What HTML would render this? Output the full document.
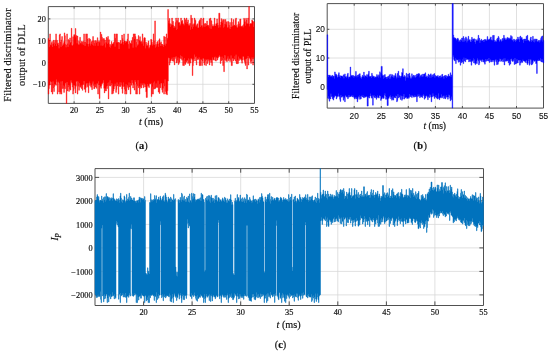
<!DOCTYPE html>
<html><head><meta charset="utf-8"><title>Figure</title>
<style>
html,body{margin:0;padding:0;background:#fff}
svg{display:block}
.s{font-family:"Liberation Serif","DejaVu Serif",serif;fill:#111;stroke:#111;stroke-width:.18}
.n{font-family:"Liberation Sans","DejaVu Sans",sans-serif;fill:#111;stroke:#111;stroke-width:.1}
</style></head><body>
<svg width="550" height="353" viewBox="0 0 550 353">
<rect width="550" height="353" fill="#fff"/>
<path d="M74.1 6.6V103.4M99.8 6.6V103.4M125.6 6.6V103.4M151.4 6.6V103.4M177.2 6.6V103.4M202.9 6.6V103.4M228.7 6.6V103.4M48.3 84.3H254.5M48.3 62.5H254.5M48.3 40.7H254.5M48.3 18.9H254.5" stroke="#d6d6d6" stroke-width="0.75" fill="none"/>
<path d="M48.3 6.6H254.5V103.4H48.3ZM74.1 103.4v-2.1M74.1 6.6v2.1M99.8 103.4v-2.1M99.8 6.6v2.1M125.6 103.4v-2.1M125.6 6.6v2.1M151.4 103.4v-2.1M151.4 6.6v2.1M177.2 103.4v-2.1M177.2 6.6v2.1M202.9 103.4v-2.1M202.9 6.6v2.1M228.7 103.4v-2.1M228.7 6.6v2.1M48.3 84.3h2.1M254.5 84.3h-2.1M48.3 62.5h2.1M254.5 62.5h-2.1M48.3 40.7h2.1M254.5 40.7h-2.1M48.3 18.9h2.1M254.5 18.9h-2.1" stroke="#484848" stroke-width="0.95" fill="none"/>
<path d="M48.3 38.4h.5V47h.5V40.2h.5V33.9h.5V44.7h.5V45.2h.5V42.7h.5V41.6h.5V46.9h.5V43.7h.5V40.2h.5V42.7h.5V45.4h.5V40.3h.5V43.9h.5V33.9h.5V45.9h.5V40.3h.5V44.1h.5V42.9h.5V44.7h.5V48.3h.5V35h.5V33.9h.5V42.1h.5V46.7h.5V39.9h.5V36.5h.5V45.9h.5V44.8h.5V43.4h.5V41.6h.5V32.9h.5V35.7h.5V44.2h.5V47.3h.5V44.9h.5V33.9h.5V43.8h.5V47.1h.5V39.6h.5V44.5h.5V40.4h.5V37.9h.5V42.8h.5V42h.5V28.3h.5V45.3h.5V45.8h.5V36.7h.5V44.2h.5V34.7h.5V34.7h.5V35.7h.5V28.5h.5V37.2h.5V35.6h.5V43.2h.5V36h.5V40.8h.5V44.5h.5V44.5h.5V41.4h.5V37.3h.5V43.2h.5V43.1h.5V41.4h.5V44.3h.5V42.2h.5V41.4h.5V45h.5V33.9h.5V45.5h.5V42h.5V45.7h.5V33.9h.5V43.3h.5V33.9h.5V39.1h.5V44.1h.5V46.2h.5V38.2h.5V43.5h.5V39.1h.5V45.6h.5V43.7h.5V42h.5V40.9h.5V44.4h.5V36.5h.5V45.6h.5V40.7h.5V43.3h.5V45.7h.5V40.6h.5V40.7h.5V43.1h.5V41.7h.5V37.7h.5V45.8h.5V42.1h.5V40.7h.5V42.3h.5V42.2h.5V32h.5V45.6h.5V34.4h.5V37.1h.5V45.8h.5V38.6h.5V45.3h.5V38.6h.5V43.6h.5V40.1h.5V47.2h.5V42.6h.5V37.3h.5V38.3h.5V43.7h.5V36.4h.5V42.4h.5V39.7h.5V47.1h.5V44.3h.5V47.5h.5V45.6h.5V41.6h.5V44.3h.5V44h.5V43.8h.5V42.8h.5V42h.5V33.9h.5V46.4h.5V38.2h.5V33.9h.5V42.2h.5V33.9h.5V42.6h.5V42.1h.5V42.6h.5V48.9h.5V42.7h.5V43.9h.5V40.5h.5V43.4h.5V43.4h.5V35h.5V38.6h.5V42.1h.5V44.2h.5V33.9h.5V41h.5V41h.5V42.7h.5V41.7h.5V41.5h.5V41.6h.5V38.9h.5V33.9h.5V44.3h.5V48.5h.5V41.3h.5V43.2h.5V43.3h.5V43.2h.5V40.7h.5V44.1h.5V37.4h.5V47.4h.5V33.9h.5V39h.5V33.9h.5V33.9h.5V36.5h.5V47.3h.5V42.3h.5V39.1h.5V45.5h.5V44.5h.5V35.6h.5V40h.5V40.9h.5V36.7h.5V41.8h.5V41.2h.5V42h.5V43.5h.5V33.9h.5V41.7h.5V45.7h.5V38.3h.5V37.6h.5V37.9h.5V48.3h.5V42.2h.5V44.5h.5V45.9h.5V45.3h.5V42.8h.5V40.9h.5V48.2h.5V47.5h.5V45.4h.5V44.9h.5V39.3h.5V39.7h.5V42.2h.5V45.6h.5V44.4h.5V33.9h.5V40.9h.5V44.9h.5V20.9h.5V47.5h.5V44.5h.5V46.6h.5V42.3h.5V41.5h.5V43.9h.5V46.7h.5V40.3h.5V38.8h.5V42.9h.5V46.1h.5V41.8h.5V44h.5V46.1h.5V44.3h.5V44.9h.5V46.7h.5V36.3h.5V44.4h.5V37h.5V45.6h.5V43.8h.5V33.9h.5V39.2h.5V38h.5V9.5h.5V20.8h.5V23.3h.5V18.5h.5V23.5h.5V27h.5V24.3h.5V25.3h.5V18h.5V24.9h.5V21.3h.5V25.3h.5V27.9h.5V26.5h.5V27.6h.5V22.4h.5V18h.5V30h.5V20.6h.5V28.9h.5V18h.5V22.6h.5V22.4h.5V22.7h.5V25.6h.5V24.5h.5V18h.5V21h.5V21.8h.5V20.4h.5V23.7h.5V24.2h.5V25.2h.5V18h.5V22.3h.5V19.7h.5V22.7h.5V18h.5V23.7h.5V22.1h.5V19.9h.5V24.4h.5V25.7h.5V25.2h.5V23.4h.5V29.4h.5V15.2h.5V27h.5V18.2h.5V28.7h.5V24.6h.5V26.7h.5V23.6h.5V18h.5V19.7h.5V20.4h.5V26.5h.5V25.6h.5V24.5h.5V23.8h.5V27.7h.5V28h.5V21.5h.5V20.4h.5V19.7h.5V27h.5V18h.5V25.6h.5V25.6h.5V27.2h.5V19h.5V18h.5V26.4h.5V23.7h.5V26.4h.5V23.4h.5V25.9h.5V24.2h.5V20.9h.5V25.2h.5V25h.5V26.2h.5V25.7h.5V18.8h.5V28.3h.5V18h.5V29.1h.5V20.7h.5V24.4h.5V25.9h.5V26.5h.5V25.9h.5V24.5h.5V18h.5V25.9h.5V26h.5V23.8h.5V23.6h.5V18.9h.5V22.9h.5V25.2h.5V27.4h.5V13.2h.5V13.2h.5V27.2h.5V25.1h.5V22.1h.5V18.7h.5V20.8h.5V22.4h.5V19.5h.5V27.5h.5V19.6h.5V26.4h.5V24h.5V19.5h.5V24.5h.5V22.3h.5V21.6h.5V27.8h.5V27.2h.5V21.6h.5V25.3h.5V28.5h.5V22.4h.5V28.9h.5V27h.5V18.6h.5V22.3h.5V26.2h.5V25.8h.5V19.6h.5V25.1h.5V25.1h.5V25.9h.5V19.5h.5V18h.5V25.6h.5V27.3h.5V28h.5V24.6h.5V21.7h.5V26.2h.5V23.8h.5V19.2h.5V19h.5V26.2h.5V26.5h.5V26.4h.5V25.8h.5V27.3h.5V24.4h.5V18.2h.5V19.4h.5V21.7h.5V25.5h.5V18.2h.5V19.9h.5V23.5h.5V23.8h.5V18h.5V23.5h.5V6.6h.5V26.3h.5V24h.5V23.6h.5V23.5h.5V23.5h.5V19.9h.5V21.1h.5V21.1h.5V27.1h.5V22h.5V57.6h-.5V59.1h-.5V65.1h-.5V59.1h-.5V57.4h-.5V61h-.5V63.4h-.5V61.4h-.5V59.2h-.5V57.8h-.5V57.9h-.5V65.1h-.5V56h-.5V58.1h-.5V69h-.5V58.5h-.5V59h-.5V65.4h-.5V63.4h-.5V61.4h-.5V59.7h-.5V56.5h-.5V56.4h-.5V59.9h-.5V63.2h-.5V60.6h-.5V59.6h-.5V58.5h-.5V59.2h-.5V58.2h-.5V60.5h-.5V56.8h-.5V63.6h-.5V59.9h-.5V63.9h-.5V63.5h-.5V54.8h-.5V61.1h-.5V56.3h-.5V58.9h-.5V59.4h-.5V60.9h-.5V58.6h-.5V58h-.5V65.6h-.5V65.6h-.5V55.5h-.5V59.5h-.5V61.5h-.5V59h-.5V58.3h-.5V60.6h-.5V56.6h-.5V58.4h-.5V61.6h-.5V59.7h-.5V61.2h-.5V55.4h-.5V59.8h-.5V55.3h-.5V71.7h-.5V57.9h-.5V65.6h-.5V59.9h-.5V56.8h-.5V60.7h-.5V59h-.5V63.5h-.5V56.8h-.5V54.9h-.5V56.3h-.5V56.9h-.5V58.1h-.5V60.1h-.5V58.1h-.5V57.2h-.5V61.1h-.5V60.7h-.5V56.7h-.5V57.3h-.5V60.2h-.5V59.5h-.5V59.8h-.5V57.4h-.5V65.6h-.5V60.1h-.5V62.4h-.5V60.1h-.5V59.7h-.5V65h-.5V61.6h-.5V60.3h-.5V59h-.5V63.6h-.5V59h-.5V60.1h-.5V65.6h-.5V61.3h-.5V59.5h-.5V65.1h-.5V63h-.5V58.2h-.5V58.5h-.5V61.1h-.5V65.6h-.5V60h-.5V59.1h-.5V65.6h-.5V59.7h-.5V65.6h-.5V57.5h-.5V59h-.5V59.6h-.5V59.4h-.5V57.9h-.5V65h-.5V56.4h-.5V57h-.5V60.9h-.5V54.8h-.5V58.8h-.5V61.4h-.5V65.6h-.5V75.6h-.5V59.4h-.5V58.5h-.5V58.2h-.5V63.1h-.5V59.6h-.5V65.6h-.5V62.5h-.5V58.5h-.5V63.5h-.5V60.5h-.5V60.3h-.5V62.2h-.5V61.1h-.5V64.4h-.5V63.4h-.5V57.9h-.5V65.6h-.5V59.7h-.5V65.5h-.5V56.7h-.5V60.2h-.5V56h-.5V58.8h-.5V55.5h-.5V58.2h-.5V61.9h-.5V63.3h-.5V64.6h-.5V57.4h-.5V60.3h-.5V62.5h-.5V63h-.5V56.2h-.5V57.3h-.5V58.8h-.5V64.9h-.5V56.9h-.5V61.3h-.5V58.7h-.5V61h-.5V57.8h-.5V59h-.5V60.4h-.5V61.1h-.5V62.7h-.5V65.1h-.5V58.1h-.5V57.7h-.5V81h-.5V90.7h-.5V94.8h-.5V93.2h-.5V94.1h-.5V91.4h-.5V79.2h-.5V86.1h-.5V94.1h-.5V83.2h-.5V88.2h-.5V92.3h-.5V89.7h-.5V83h-.5V83.2h-.5V87.8h-.5V84.6h-.5V93.5h-.5V84.2h-.5V92.1h-.5V80.8h-.5V87.4h-.5V86.8h-.5V87.3h-.5V83.4h-.5V88.1h-.5V88.8h-.5V81.4h-.5V89.1h-.5V82.7h-.5V94.1h-.5V86.7h-.5V94h-.5V96.5h-.5V82.9h-.5V84h-.5V83.2h-.5V84h-.5V87.6h-.5V85.8h-.5V86.2h-.5V84.1h-.5V97.4h-.5V97.4h-.5V91.8h-.5V84.4h-.5V87h-.5V84.2h-.5V83.2h-.5V87.8h-.5V83.2h-.5V84.4h-.5V85.2h-.5V88h-.5V83.5h-.5V86.8h-.5V88.4h-.5V94.1h-.5V86.6h-.5V87.7h-.5V80.3h-.5V85.8h-.5V94.1h-.5V84h-.5V94.1h-.5V81.7h-.5V80.3h-.5V90.1h-.5V83.7h-.5V84.8h-.5V88h-.5V82.7h-.5V80.3h-.5V85.2h-.5V83.8h-.5V94.1h-.5V82.9h-.5V87.1h-.5V82.5h-.5V89.7h-.5V87.8h-.5V84.9h-.5V86.4h-.5V94.1h-.5V84.2h-.5V90.9h-.5V94.1h-.5V89.2h-.5V86.4h-.5V82.5h-.5V86.6h-.5V93.3h-.5V88.9h-.5V82.8h-.5V85.2h-.5V86.6h-.5V82.2h-.5V86.4h-.5V84.2h-.5V94.1h-.5V85.4h-.5V86h-.5V82.4h-.5V89.5h-.5V92.4h-.5V85.8h-.5V83.7h-.5V86.3h-.5V88.9h-.5V90.9h-.5V93.4h-.5V83.7h-.5V94.1h-.5V84.7h-.5V82.9h-.5V86.1h-.5V80.6h-.5V85.8h-.5V82.3h-.5V98.9h-.5V83.1h-.5V85.7h-.5V88.6h-.5V86.5h-.5V91h-.5V88.8h-.5V90.9h-.5V92.9h-.5V88.3h-.5V80.6h-.5V82.6h-.5V83.3h-.5V83.7h-.5V85.7h-.5V88.3h-.5V86.1h-.5V87h-.5V98.5h-.5V84.9h-.5V81.6h-.5V94.1h-.5V83.4h-.5V83.4h-.5V88.3h-.5V84.7h-.5V87h-.5V84.2h-.5V88.5h-.5V88.7h-.5V85.5h-.5V81.4h-.5V83.6h-.5V89.7h-.5V84.9h-.5V87.2h-.5V83.5h-.5V85.6h-.5V81.8h-.5V83.2h-.5V92.8h-.5V87.3h-.5V86.4h-.5V83.1h-.5V83.5h-.5V87.4h-.5V92.2h-.5V88.9h-.5V89.2h-.5V80.9h-.5V84.2h-.5V84.7h-.5V90.3h-.5V85.5h-.5V88.5h-.5V85.5h-.5V87.2h-.5V86.5h-.5V83.3h-.5V90.3h-.5V86.2h-.5V81.8h-.5V94.1h-.5V81.3h-.5V81.4h-.5V86.2h-.5V93h-.5V88.6h-.5V85.4h-.5V84.9h-.5V90.4h-.5V94.1h-.5V87.1h-.5V83.3h-.5V82.2h-.5V80.5h-.5V90.1h-.5V89.2h-.5V85.8h-.5V91.4h-.5V85.3h-.5V87h-.5V90.9h-.5V81.9h-.5V103.4h-.5V82.7h-.5V83.3h-.5V88.8h-.5V86.4h-.5V92.4h-.5V85.4h-.5V88.4h-.5V81h-.5V88.7h-.5V94.1h-.5V81.5h-.5V92.3h-.5V94.1h-.5V83.5h-.5V92h-.5V81.7h-.5V82.4h-.5V94.1h-.5V81.8h-.5V79.4h-.5V85.3h-.5V84.4h-.5V83.9h-.5V86.5h-.5V91.6h-.5V87.9h-.5V81.5h-.5V94.1h-.5V84.9h-.5V92h-.5V82.1h-.5V81h-.5V84.8h-.5V85.2h-.5V88.5h-.5V94.1h-.5Z" fill="#ff0000" stroke="#ff0000" stroke-width="0.5"/>
<path d="M354.2 3.6V108.1M381.3 3.6V108.1M408.3 3.6V108.1M435.4 3.6V108.1M462.4 3.6V108.1M489.4 3.6V108.1M516.5 3.6V108.1M327.2 86.8H543.5M327.2 58.0H543.5M327.2 29.3H543.5" stroke="#d6d6d6" stroke-width="0.75" fill="none"/>
<path d="M327.2 3.6H543.5V108.1H327.2ZM354.2 108.1v-2.1M354.2 3.6v2.1M381.3 108.1v-2.1M381.3 3.6v2.1M408.3 108.1v-2.1M408.3 3.6v2.1M435.4 108.1v-2.1M435.4 3.6v2.1M462.4 108.1v-2.1M462.4 3.6v2.1M489.4 108.1v-2.1M489.4 3.6v2.1M516.5 108.1v-2.1M516.5 3.6v2.1M327.2 86.8h2.1M543.5 86.8h-2.1M327.2 58.0h2.1M543.5 58.0h-2.1M327.2 29.3h2.1M543.5 29.3h-2.1" stroke="#484848" stroke-width="0.95" fill="none"/>
<path d="M327.2 34.8h.5V75h.5V76.9h.5V75.2h.5V75.8h.5V75h.5V76.3h.5V76.8h.5V76.2h.5V75.8h.5V75.3h.5V77.3h.5V76.1h.5V76.2h.5V78.5h.5V71.9h.5V75.2h.5V73.9h.5V74.7h.5V75.4h.5V77.4h.5V77.1h.5V74.6h.5V72.7h.5V76.9h.5V75.6h.5V77.8h.5V75.9h.5V76.1h.5V76h.5V76.5h.5V76.4h.5V74.8h.5V78.3h.5V75.4h.5V73.9h.5V77h.5V76.6h.5V77.7h.5V76.7h.5V74.4h.5V73.3h.5V78.2h.5V76.9h.5V76.9h.5V77.3h.5V67h.5V75.9h.5V75.9h.5V75.1h.5V75.7h.5V76.5h.5V75.6h.5V77.4h.5V76.3h.5V76.9h.5V75.8h.5V71.4h.5V76.1h.5V77.3h.5V75.3h.5V76.7h.5V74.8h.5V75.4h.5V73.9h.5V73.7h.5V76.6h.5V77.9h.5V79h.5V76.9h.5V75.3h.5V76.7h.5V76.3h.5V72.1h.5V77.3h.5V75.6h.5V76.1h.5V76.2h.5V76.9h.5V74.6h.5V77.3h.5V75.3h.5V73.8h.5V71.2h.5V76.6h.5V76.4h.5V77h.5V76.2h.5V77.9h.5V73.3h.5V75.4h.5V77.1h.5V76.2h.5V76.4h.5V78.1h.5V76.8h.5V77h.5V77.6h.5V76.8h.5V74.6h.5V77.1h.5V75.8h.5V77.6h.5V74.8h.5V76.3h.5V71.8h.5V77.6h.5V73.2h.5V66.4h.5V66.4h.5V74.8h.5V76h.5V78.4h.5V75.2h.5V78h.5V74.5h.5V77.1h.5V77.6h.5V77.3h.5V78.9h.5V76.8h.5V77.9h.5V76.3h.5V77.2h.5V74.7h.5V78.9h.5V77.5h.5V74.2h.5V75.8h.5V76.4h.5V74.7h.5V76.9h.5V77.7h.5V75.6h.5V77.2h.5V75.8h.5V73.6h.5V75.7h.5V78.2h.5V77.5h.5V73.4h.5V77.3h.5V71.2h.5V77.4h.5V75.7h.5V76.2h.5V77.4h.5V76.6h.5V75.9h.5V72.6h.5V72.9h.5V68.7h.5V76.7h.5V76.7h.5V75.5h.5V76.7h.5V80.5h.5V76.6h.5V73.3h.5V77.7h.5V77.3h.5V74.2h.5V77.7h.5V74h.5V73.2h.5V75.8h.5V77.8h.5V79h.5V77.7h.5V73.8h.5V76.2h.5V77.2h.5V75.3h.5V75.5h.5V75.7h.5V77.2h.5V77.6h.5V75.2h.5V76.4h.5V74h.5V75.4h.5V74.1h.5V73.6h.5V74.5h.5V73.8h.5V77.3h.5V75.7h.5V75.8h.5V74.8h.5V76.6h.5V76.4h.5V74h.5V76.3h.5V74.3h.5V73.9h.5V73.9h.5V72.8h.5V77.1h.5V77.1h.5V75.8h.5V77.7h.5V76.7h.5V74h.5V76.9h.5V75.2h.5V77.7h.5V74.6h.5V73.8h.5V77.2h.5V75.5h.5V76.9h.5V74.7h.5V76.2h.5V74h.5V73.6h.5V77.5h.5V75.5h.5V77h.5V76.1h.5V76.4h.5V76.6h.5V75.4h.5V77.1h.5V77.8h.5V76.1h.5V76.6h.5V75.8h.5V77.7h.5V77.1h.5V74.7h.5V74.3h.5V76.9h.5V76.5h.5V78.5h.5V76h.5V75.5h.5V77h.5V75.3h.5V77.7h.5V76.3h.5V76.9h.5V76.1h.5V74.3h.5V76.6h.5V76h.5V76.3h.5V72.8h.5V76.8h.5V74.9h.5V76.5h.5V3.6h.5V3.6h.5V35.1h.5V37.5h.5V37.8h.5V38.6h.5V38h.5V38.9h.5V40.2h.5V39.4h.5V38.4h.5V38.3h.5V39.6h.5V41.4h.5V40.7h.5V42.1h.5V39.7h.5V40.6h.5V40.2h.5V38.1h.5V41.4h.5V37.9h.5V36.5h.5V41.7h.5V40.5h.5V38.5h.5V40.4h.5V36.9h.5V38.6h.5V42.2h.5V40.7h.5V38.8h.5V36.3h.5V40.5h.5V40h.5V39.6h.5V41.7h.5V41.9h.5V40h.5V37.3h.5V40.5h.5V39.1h.5V38.9h.5V39.8h.5V38.8h.5V41.9h.5V43.4h.5V39.4h.5V40.5h.5V40.9h.5V40.6h.5V38.7h.5V35.3h.5V40.3h.5V38.2h.5V42.7h.5V40.5h.5V41h.5V39.2h.5V41.1h.5V40.8h.5V40.6h.5V40h.5V42.1h.5V39.5h.5V40.4h.5V39.7h.5V39.4h.5V40.9h.5V40.2h.5V36.6h.5V39h.5V40h.5V40h.5V39h.5V39.8h.5V37.8h.5V36.9h.5V39.8h.5V40.3h.5V40.2h.5V35.5h.5V39.5h.5V35.3h.5V41.9h.5V40.3h.5V42.1h.5V41.3h.5V42h.5V39.3h.5V38.2h.5V39.9h.5V36.4h.5V37.8h.5V41.7h.5V40.8h.5V39.8h.5V39.6h.5V41.8h.5V40.9h.5V38.5h.5V40.2h.5V38.5h.5V35.3h.5V39h.5V37.9h.5V39.8h.5V39.5h.5V39.6h.5V38.2h.5V37.4h.5V38.6h.5V37.9h.5V39.2h.5V39h.5V37.9h.5V38.7h.5V35.6h.5V39.5h.5V36.6h.5V39.9h.5V40.4h.5V41.5h.5V39.1h.5V40.9h.5V39.7h.5V42h.5V40.5h.5V40.6h.5V39h.5V40h.5V37h.5V38.8h.5V39.5h.5V41.9h.5V37h.5V36h.5V38.7h.5V37.7h.5V37.6h.5V39.9h.5V39.6h.5V42.7h.5V39.1h.5V39h.5V40.5h.5V39.1h.5V41.1h.5V36.3h.5V38.4h.5V35.3h.5V40.3h.5V40.2h.5V40.8h.5V42.1h.5V41.3h.5V38.4h.5V37h.5V42h.5V40.3h.5V40.9h.5V36.3h.5V41.7h.5V39.6h.5V42.3h.5V38.9h.5V39.2h.5V41.2h.5V39.1h.5V39.2h.5V41.5h.5V41.7h.5V40.4h.5V41.2h.5V42.2h.5V40.1h.5V41.3h.5V38.4h.5V36.7h.5V40.3h.5V35.9h.5V41.4h.5V40.4h.5V62.9h-.5V59.5h-.5V62.1h-.5V59.3h-.5V61.9h-.5V61.2h-.5V58.3h-.5V60.4h-.5V60h-.5V60.7h-.5V59.8h-.5V60.7h-.5V60.4h-.5V73.5h-.5V63.4h-.5V63.5h-.5V60.6h-.5V60.9h-.5V61.3h-.5V60.8h-.5V60.1h-.5V62.8h-.5V64.2h-.5V61.8h-.5V64.9h-.5V59.8h-.5V59.2h-.5V63.7h-.5V65.2h-.5V59h-.5V60.7h-.5V63.2h-.5V64.5h-.5V63h-.5V60.1h-.5V61h-.5V62.4h-.5V61.6h-.5V61h-.5V60.9h-.5V60.7h-.5V59.7h-.5V62.4h-.5V61.9h-.5V61.2h-.5V63.1h-.5V60.1h-.5V65.2h-.5V60.1h-.5V60.2h-.5V59.9h-.5V62.9h-.5V62.8h-.5V59.3h-.5V63.4h-.5V61.7h-.5V64h-.5V58.1h-.5V64.5h-.5V59h-.5V60.5h-.5V61.4h-.5V61.3h-.5V60.5h-.5V58.7h-.5V59h-.5V64.1h-.5V61.2h-.5V65.2h-.5V60.7h-.5V62.8h-.5V59.8h-.5V60.9h-.5V60.5h-.5V61h-.5V61.3h-.5V61h-.5V58.2h-.5V65h-.5V61.5h-.5V58.8h-.5V61.7h-.5V59.5h-.5V59.8h-.5V60.9h-.5V61.4h-.5V58.9h-.5V58.7h-.5V60.8h-.5V61.4h-.5V62.1h-.5V64.3h-.5V60.3h-.5V64.7h-.5V61.8h-.5V59.5h-.5V59.8h-.5V61.4h-.5V65.2h-.5V60.3h-.5V60.3h-.5V61.8h-.5V60.3h-.5V60.3h-.5V61.8h-.5V61.9h-.5V59.5h-.5V60.3h-.5V62.4h-.5V58.1h-.5V61h-.5V60.7h-.5V59h-.5V60.8h-.5V59.5h-.5V61.4h-.5V59.1h-.5V64.2h-.5V62.5h-.5V60.4h-.5V61.9h-.5V60.1h-.5V59h-.5V61.8h-.5V60.6h-.5V59.7h-.5V60.3h-.5V59.7h-.5V63.2h-.5V64.9h-.5V61.1h-.5V59.8h-.5V58.6h-.5V63.6h-.5V61.1h-.5V63.2h-.5V64.6h-.5V63.3h-.5V59.4h-.5V62.9h-.5V58.6h-.5V60.3h-.5V60.9h-.5V61.7h-.5V65.2h-.5V60.8h-.5V61.5h-.5V58.9h-.5V61.2h-.5V61.9h-.5V59.6h-.5V59.5h-.5V58.9h-.5V59.3h-.5V59.5h-.5V58.1h-.5V61.8h-.5V59.7h-.5V61.1h-.5V57.8h-.5V63.6h-.5V58.9h-.5V62.1h-.5V61.5h-.5V62.7h-.5V61.8h-.5V65.2h-.5V59.4h-.5V61.7h-.5V59.6h-.5V62.2h-.5V60.1h-.5V60h-.5V59.6h-.5V59.4h-.5V63.6h-.5V58.2h-.5V60.8h-.5V60.6h-.5V59.4h-.5V56.8h-.5V55.3h-.5V108.1h-.5V99.7h-.5V96.7h-.5V99.4h-.5V100.8h-.5V98.3h-.5V95.3h-.5V94.7h-.5V97.1h-.5V99.2h-.5V96.9h-.5V97h-.5V95.2h-.5V97.5h-.5V98.9h-.5V95.8h-.5V97.8h-.5V98.6h-.5V95.8h-.5V95.9h-.5V97.2h-.5V98.1h-.5V94.5h-.5V97h-.5V97.5h-.5V98.1h-.5V99.7h-.5V98.3h-.5V93.5h-.5V98.5h-.5V99.1h-.5V97.6h-.5V98.1h-.5V95.2h-.5V97h-.5V96.1h-.5V98.4h-.5V96.3h-.5V95.8h-.5V93.5h-.5V96.6h-.5V97.1h-.5V101.8h-.5V97h-.5V95.2h-.5V94.5h-.5V97.6h-.5V96h-.5V97h-.5V99.7h-.5V97.2h-.5V96.2h-.5V95.6h-.5V96h-.5V98.1h-.5V97.1h-.5V99.2h-.5V95.6h-.5V94.2h-.5V95.5h-.5V97.5h-.5V95.8h-.5V96.9h-.5V96.8h-.5V95.8h-.5V97.8h-.5V94.7h-.5V96h-.5V94.5h-.5V96.6h-.5V94.8h-.5V101.8h-.5V96.2h-.5V96.7h-.5V95.7h-.5V96.8h-.5V95.5h-.5V97.2h-.5V96.4h-.5V95.7h-.5V95.2h-.5V97.6h-.5V95h-.5V96.6h-.5V95.6h-.5V96.8h-.5V93.9h-.5V98.2h-.5V97.1h-.5V98.3h-.5V98.2h-.5V98.4h-.5V97.1h-.5V97.2h-.5V97.8h-.5V97.3h-.5V99.1h-.5V94.3h-.5V96.3h-.5V99.1h-.5V96h-.5V100.3h-.5V96h-.5V95.4h-.5V99.4h-.5V97.2h-.5V97h-.5V95.5h-.5V97.9h-.5V94.3h-.5V100.4h-.5V101.8h-.5V96.1h-.5V95.8h-.5V97.9h-.5V97.1h-.5V97.5h-.5V97.8h-.5V100.1h-.5V96.2h-.5V99.3h-.5V100.2h-.5V97.6h-.5V98.8h-.5V95.4h-.5V96.8h-.5V96.1h-.5V98.3h-.5V98.6h-.5V105.5h-.5V105.5h-.5V99.2h-.5V96.9h-.5V99.3h-.5V96.1h-.5V93.5h-.5V95.1h-.5V98.3h-.5V98.4h-.5V97.5h-.5V97.4h-.5V98.7h-.5V99h-.5V100.4h-.5V96.1h-.5V95.7h-.5V95.6h-.5V98.1h-.5V97.1h-.5V97.6h-.5V95.5h-.5V97.3h-.5V99.3h-.5V97.4h-.5V95.9h-.5V98h-.5V96.9h-.5V94.9h-.5V96.2h-.5V105.2h-.5V95.5h-.5V98.2h-.5V97.5h-.5V95.7h-.5V93.8h-.5V96h-.5V98.1h-.5V96.7h-.5V97.6h-.5V106.1h-.5V106.1h-.5V96.7h-.5V96.3h-.5V96.6h-.5V97.1h-.5V97.2h-.5V96.5h-.5V97.9h-.5V97.1h-.5V95.2h-.5V97h-.5V95.9h-.5V95.8h-.5V98.9h-.5V96.1h-.5V99.3h-.5V95.8h-.5V97.2h-.5V96.3h-.5V99.2h-.5V101.8h-.5V98.4h-.5V98.7h-.5V96.9h-.5V97.7h-.5V99.1h-.5V98.3h-.5V97.3h-.5V96.5h-.5V95.6h-.5V96.9h-.5V95h-.5V96.1h-.5V96.4h-.5V96.4h-.5V96.7h-.5V95.6h-.5V97.2h-.5V95.3h-.5V98.8h-.5V97h-.5V96.3h-.5V97.1h-.5V95.9h-.5V95h-.5V101.8h-.5V98.2h-.5V96.7h-.5V100.2h-.5V96.2h-.5V96.4h-.5V97.2h-.5V97h-.5V95.3h-.5V101.4h-.5V99.3h-.5V96.8h-.5V96.3h-.5V93.8h-.5V96.2h-.5V96.4h-.5V97.4h-.5V99h-.5V95.9h-.5V95.7h-.5V95.8h-.5V96.9h-.5V97.8h-.5V100.1h-.5V97.8h-.5V98.8h-.5V96.3h-.5V96.5h-.5V93.7h-.5V99h-.5V98.3h-.5V101.2h-.5V99.1h-.5V96.6h-.5V98.2h-.5V89.4h-.5Z" fill="#0000ff" stroke="#0000ff" stroke-width="0.5"/>
<path d="M143.6 168.6V305.5M192.1 168.6V305.5M240.7 168.6V305.5M289.2 168.6V305.5M337.8 168.6V305.5M386.4 168.6V305.5M434.9 168.6V305.5M95.0 294.9H483.5M95.0 271.4H483.5M95.0 247.9H483.5M95.0 224.4H483.5M95.0 200.9H483.5M95.0 177.4H483.5" stroke="#d6d6d6" stroke-width="0.75" fill="none"/>
<path d="M95.0 168.6H483.5V305.5H95.0ZM143.6 305.5v-4.1M143.6 168.6v4.1M192.1 305.5v-4.1M192.1 168.6v4.1M240.7 305.5v-4.1M240.7 168.6v4.1M289.2 305.5v-4.1M289.2 168.6v4.1M337.8 305.5v-4.1M337.8 168.6v4.1M386.4 305.5v-4.1M386.4 168.6v4.1M434.9 305.5v-4.1M434.9 168.6v4.1M95.0 294.9h4.1M483.5 294.9h-4.1M95.0 271.4h4.1M483.5 271.4h-4.1M95.0 247.9h4.1M483.5 247.9h-4.1M95.0 224.4h4.1M483.5 224.4h-4.1M95.0 200.9h4.1M483.5 200.9h-4.1M95.0 177.4h4.1M483.5 177.4h-4.1" stroke="#484848" stroke-width="0.95" fill="none"/>
<path d="M95 200.6h.5V201.6h.5V200h.5V197h.5V194.6h.5V196.1h.5V198.4h.5V196.7h.5V202.3h.5V200.7h.5V200.6h.5V200.1h.5V201.1h.5V196.1h.5V199h.5V200.7h.5V202.6h.5V197.6h.5V200.1h.5V196.8h.5V196.8h.5V201.5h.5V193.6h.5V200.3h.5V196.9h.5V196.5h.5V198.4h.5V197.5h.5V201h.5V197.7h.5V198.2h.5V200.3h.5V198.9h.5V197.8h.5V198h.5V200.4h.5V193.7h.5V198.3h.5V199.9h.5V199.2h.5V201h.5V200.7h.5V200.9h.5V198.8h.5V201.2h.5V199.4h.5V200.2h.5V198.6h.5V202.4h.5V200.1h.5V195.9h.5V193.2h.5V198.2h.5V201.5h.5V202.7h.5V199.8h.5V201.1h.5V199.9h.5V195.9h.5V197.1h.5V201.6h.5V202.2h.5V200.5h.5V194.4h.5V198.9h.5V200.9h.5V199.5h.5V197.4h.5V193.2h.5V200.8h.5V199.7h.5V196.5h.5V199.7h.5V198.1h.5V199.9h.5V200.1h.5V200.9h.5V197.8h.5V197.8h.5V201.1h.5V202.2h.5V201.3h.5V202.8h.5V200.8h.5V200.9h.5V200.5h.5V199.9h.5V202.2h.5V197.1h.5V198.4h.5V202.3h.5V197.8h.5V199h.5V198.3h.5V200h.5V198.5h.5V198.8h.5V199.3h.5V201.2h.5V196.6h.5V200.3h.5V273h.5V274.5h.5V273.8h.5V274.5h.5V267.8h.5V272.6h.5V271.2h.5V273.7h.5V202.6h.5V202.2h.5V193.7h.5V201.3h.5V199.8h.5V200h.5V201.3h.5V199.5h.5V201h.5V199.7h.5V195.5h.5V199.5h.5V198.8h.5V195.7h.5V202.4h.5V199.7h.5V199.4h.5V199.2h.5V197.1h.5V200.2h.5V199.9h.5V196.2h.5V198h.5V200.2h.5V200.3h.5V199.1h.5V196.8h.5V201h.5V195.7h.5V202.1h.5V200.7h.5V193.2h.5V194.8h.5V197.1h.5V199.7h.5V202.3h.5V201.5h.5V197h.5V199h.5V199.5h.5V198.7h.5V201.7h.5V197.1h.5V201.4h.5V198.7h.5V200.1h.5V200h.5V200.8h.5V194.4h.5V199.7h.5V199.4h.5V198.7h.5V267h.5V272.2h.5V275.4h.5V272.2h.5V276.3h.5V199.5h.5V201.3h.5V200.3h.5V202.8h.5V197.4h.5V200.2h.5V201.8h.5V193.2h.5V194.4h.5V199.7h.5V200.6h.5V197.4h.5V196h.5V200.6h.5V199.3h.5V201.4h.5V201.4h.5V197.4h.5V198h.5V198.8h.5V196h.5V201.7h.5V202.5h.5V193.9h.5V200.6h.5V200.8h.5V202.3h.5V193.2h.5V199.2h.5V196.6h.5V193.6h.5V198.6h.5V196.9h.5V194h.5V199.6h.5V201.2h.5V200.3h.5V199.9h.5V199.2h.5V199.4h.5V199.6h.5V198.9h.5V200h.5V198.7h.5V197.8h.5V200.7h.5V193.2h.5V200.7h.5V194.5h.5V194.9h.5V199.7h.5V199.3h.5V202.2h.5V271.5h.5V270.2h.5V198.3h.5V200h.5V196.8h.5V196.3h.5V200.4h.5V199.5h.5V195.6h.5V201.2h.5V195.7h.5V197.3h.5V202.4h.5V195.2h.5V197.9h.5V201.6h.5V198.2h.5V198.3h.5V200.4h.5V202.7h.5V199.2h.5V195.8h.5V200h.5V199.9h.5V195.4h.5V201.9h.5V201h.5V197.7h.5V197.6h.5V198.7h.5V202h.5V200.3h.5V199.7h.5V201.8h.5V201.1h.5V199.2h.5V197.9h.5V199.6h.5V201.1h.5V202h.5V197.2h.5V199.2h.5V198.3h.5V200.6h.5V202.5h.5V202.5h.5V198.8h.5V200.6h.5V201.1h.5V201.2h.5V199h.5V199h.5V194.7h.5V200h.5V204.5h.5V202.2h.5V204.5h.5V273.4h.5V274.5h.5V274.9h.5V201.2h.5V198.3h.5V201.3h.5V201.4h.5V200.6h.5V194.6h.5V200.3h.5V198.4h.5V197.6h.5V201h.5V201.8h.5V195h.5V199.9h.5V198.8h.5V201.5h.5V201.9h.5V197.7h.5V199.2h.5V201.2h.5V203.1h.5V197.7h.5V200.7h.5V199.2h.5V202.4h.5V194.3h.5V195h.5V200.2h.5V200.2h.5V199.9h.5V201.6h.5V197.4h.5V199.4h.5V200.5h.5V202.5h.5V200.9h.5V202.3h.5V200.4h.5V195.8h.5V199.8h.5V199.6h.5V200.2h.5V199h.5V201.7h.5V201h.5V199.8h.5V203.4h.5V201.1h.5V198.9h.5V199.9h.5V202.3h.5V197.4h.5V197.4h.5V200h.5V196.8h.5V193.6h.5V196.2h.5V197.8h.5V201.6h.5V202.1h.5V272.4h.5V271.8h.5V196.9h.5V201h.5V199.4h.5V202h.5V197.1h.5V194.7h.5V199h.5V194.6h.5V201.2h.5V193.2h.5V203.6h.5V199.4h.5V196.6h.5V201.1h.5V199.9h.5V197.3h.5V199.8h.5V200.8h.5V198.7h.5V198.3h.5V200.1h.5V200.5h.5V198.1h.5V197.5h.5V197.5h.5V198.1h.5V198h.5V201.2h.5V200.5h.5V201.3h.5V198.2h.5V197.2h.5V198h.5V198.5h.5V200.4h.5V201.8h.5V199.7h.5V197.5h.5V199.5h.5V199.5h.5V199.9h.5V198.4h.5V199.7h.5V199.7h.5V199.5h.5V200.9h.5V201.4h.5V194.6h.5V198.1h.5V201.3h.5V200.1h.5V197h.5V200.5h.5V194.2h.5V271.1h.5V267.3h.5V199.5h.5V199.9h.5V197h.5V201.7h.5V196h.5V200.9h.5V201.4h.5V202.2h.5V198.2h.5V199.1h.5V200.8h.5V199.8h.5V201.5h.5V194.5h.5V198.3h.5V197.4h.5V201.7h.5V199.4h.5V200h.5V197.6h.5V198.1h.5V198.2h.5V198.2h.5V196.9h.5V198.2h.5V194.7h.5V197.9h.5V200h.5V199.6h.5V194.4h.5V201.6h.5V200.1h.5V196.9h.5V200.6h.5V200.3h.5V197h.5V196.8h.5V198.5h.5V195.8h.5V200h.5V201.5h.5V200.8h.5V200h.5V199.8h.5V197h.5V201.5h.5V203h.5V198.2h.5V200.6h.5V193.2h.5V199.5h.5V198.4h.5V199.2h.5V202.5h.5V168.6h.5V192.2h.5V195.4h.5V198.3h.5V194.4h.5V194.1h.5V190h.5V193.8h.5V196.5h.5V196.4h.5V191h.5V194.5h.5V194.3h.5V197.8h.5V199.2h.5V191h.5V197h.5V194.1h.5V196.3h.5V197.1h.5V196.4h.5V194h.5V195.3h.5V196.8h.5V196.6h.5V194.7h.5V198.7h.5V197.5h.5V195.5h.5V197.1h.5V196.6h.5V196.2h.5V190.5h.5V196.3h.5V196.2h.5V192.4h.5V194.1h.5V197.7h.5V194.3h.5V192h.5V190h.5V189.4h.5V192.6h.5V190.5h.5V191.8h.5V189.9h.5V193.5h.5V188.5h.5V191.6h.5V198.8h.5V196.1h.5V197.4h.5V196.4h.5V192.1h.5V198.4h.5V193.9h.5V194.3h.5V192.8h.5V188.5h.5V192.3h.5V195.3h.5V195.5h.5V197.9h.5V188.5h.5V196h.5V197.1h.5V195.5h.5V196.1h.5V189.8h.5V188.5h.5V198.5h.5V194.7h.5V194.5h.5V190.1h.5V194.6h.5V196.8h.5V192.5h.5V197.7h.5V197.8h.5V194.9h.5V194.1h.5V196h.5V197h.5V191h.5V197h.5V195.6h.5V196.7h.5V186.8h.5V186.8h.5V196.2h.5V194h.5V195.2h.5V196.6h.5V193.2h.5V191.6h.5V195.4h.5V195.6h.5V195.3h.5V197.8h.5V195.1h.5V197.5h.5V192.3h.5V189.6h.5V194.7h.5V195.4h.5V193h.5V190.1h.5V195.6h.5V195.1h.5V197.6h.5V194.7h.5V192.5h.5V194.6h.5V194.5h.5V193.4h.5V191.1h.5V197.4h.5V196.4h.5V194h.5V195.8h.5V198.2h.5V200.9h.5V196.3h.5V197.8h.5V196.5h.5V185.6h.5V185.6h.5V194.3h.5V197.2h.5V192.7h.5V195h.5V198h.5V194.7h.5V193.4h.5V196.9h.5V192.7h.5V195.9h.5V194.7h.5V188.5h.5V197.7h.5V198.1h.5V196.1h.5V196.3h.5V190.3h.5V197.9h.5V188.7h.5V193.7h.5V191.9h.5V196.5h.5V195.3h.5V195.8h.5V195.6h.5V197.4h.5V194h.5V194h.5V193.3h.5V192.5h.5V196.2h.5V196.3h.5V198.2h.5V192.6h.5V196.6h.5V193.5h.5V189.3h.5V193.9h.5V194.6h.5V198.1h.5V197.3h.5V196.8h.5V195h.5V196.6h.5V194.8h.5V189.6h.5V195.3h.5V195.2h.5V197.6h.5V195.9h.5V195.6h.5V188.5h.5V196.5h.5V190.2h.5V198.1h.5V190.6h.5V193.3h.5V194.7h.5V188.5h.5V197.1h.5V193.3h.5V195.2h.5V196.2h.5V197.5h.5V191.7h.5V199.1h.5V194.4h.5V197.3h.5V193.5h.5V193.1h.5V191.3h.5V199.7h.5V199.1h.5V200.2h.5V200.6h.5V195.3h.5V198.8h.5V196.4h.5V194.6h.5V196.5h.5V198.7h.5V199.2h.5V197.9h.5V199.5h.5V194.5h.5V199.4h.5V200.6h.5V193.8h.5V194.1h.5V192.1h.5V194.2h.5V189.1h.5V192.7h.5V187.3h.5V191h.5V182.1h.5V182.1h.5V188.3h.5V190h.5V190.6h.5V187.2h.5V188.8h.5V190h.5V187h.5V188.2h.5V192h.5V191.5h.5V184.9h.5V188.2h.5V191.3h.5V185.1h.5V189.4h.5V191.3h.5V190.8h.5V187.1h.5V186.8h.5V182.6h.5V182.6h.5V189.7h.5V187.5h.5V193.2h.5V185.7h.5V188.6h.5V182.8h.5V191.1h.5V192.2h.5V186.6h.5V190.7h.5V191h.5V186.6h.5V190.7h.5V190.5h.5V192.9h.5V185.2h.5V191.3h.5V189.2h.5V187.1h.5V192.1h.5V196.3h.5V194.4h.5V197.2h.5V194.7h.5V193.1h.5V195.4h.5V196.3h.5V194.2h.5V196.9h.5V191.4h.5V188.8h.5V196.3h.5V198.4h.5V198.4h.5V197.1h.5V197h.5V193.2h.5V189.5h.5V195.8h.5V191.7h.5V198.1h.5V194.8h.5V194.7h.5V191h.5V197.5h.5V195.4h.5V198h.5V196.6h.5V199h.5V200.5h.5V197.8h.5V199h.5V198.9h.5V200.4h.5V199.1h.5V198.1h.5V196.5h.5V198.6h.5V198.9h.5V194.7h.5V198.8h.5V195.3h.5V200.6h.5V195.9h.5V196h.5V200.3h.5V192.5h.5V198.8h.5V197.7h.5V198h.5V201.9h.5V200.2h.5V196.9h.5V201.4h.5V203.3h.5V193.4h.5V195.9h.5V203.2h.5V202.4h.5V201.9h.5V197h.5V200.2h.5V225.5h-.5V224.2h-.5V228.7h-.5V230.8h-.5V231.6h-.5V226.8h-.5V222.8h-.5V225h-.5V221.6h-.5V223.2h-.5V222.9h-.5V227.5h-.5V226.3h-.5V230.7h-.5V226.5h-.5V225.3h-.5V226.5h-.5V224.1h-.5V225.7h-.5V224.4h-.5V222.3h-.5V218.4h-.5V221.6h-.5V221.2h-.5V223.3h-.5V224.2h-.5V221.5h-.5V225.8h-.5V221.5h-.5V225.7h-.5V224.8h-.5V224.8h-.5V221.4h-.5V228.6h-.5V220h-.5V225.7h-.5V225h-.5V218.1h-.5V222.6h-.5V220.6h-.5V220.5h-.5V224.1h-.5V220.7h-.5V222.9h-.5V222.6h-.5V221.9h-.5V219.7h-.5V219.6h-.5V220.2h-.5V219.4h-.5V218.2h-.5V216.8h-.5V217.8h-.5V218.8h-.5V220.9h-.5V220.3h-.5V219.5h-.5V219.5h-.5V221.8h-.5V221.6h-.5V222.8h-.5V217h-.5V216.1h-.5V215.1h-.5V215.2h-.5V211.6h-.5V212.5h-.5V220.5h-.5V212.1h-.5V213.2h-.5V214.2h-.5V213.8h-.5V213.1h-.5V211.9h-.5V216h-.5V215.7h-.5V216.9h-.5V214.7h-.5V214h-.5V213h-.5V215.6h-.5V214.1h-.5V211.1h-.5V213h-.5V212.5h-.5V211.3h-.5V213h-.5V213.5h-.5V216h-.5V214.6h-.5V218h-.5V215.6h-.5V214.8h-.5V217.5h-.5V215.5h-.5V212.7h-.5V215h-.5V213.7h-.5V215.6h-.5V217.4h-.5V210.5h-.5V209.2h-.5V213.3h-.5V214.2h-.5V213.3h-.5V212h-.5V213.6h-.5V217.5h-.5V217h-.5V215.6h-.5V221.1h-.5V221h-.5V227.5h-.5V232.4h-.5V220h-.5V221.2h-.5V224h-.5V226.8h-.5V226.8h-.5V228.5h-.5V223.4h-.5V222.3h-.5V224.5h-.5V223.1h-.5V220.8h-.5V222.8h-.5V228h-.5V226.5h-.5V222.1h-.5V228.6h-.5V228.6h-.5V224.2h-.5V220.9h-.5V219.4h-.5V220.6h-.5V221.9h-.5V222.7h-.5V222.1h-.5V219h-.5V217.9h-.5V218.9h-.5V220.9h-.5V224.5h-.5V222.3h-.5V222.6h-.5V218.4h-.5V218.5h-.5V217.7h-.5V218.5h-.5V222.8h-.5V221.4h-.5V222.9h-.5V222.9h-.5V219.5h-.5V219.2h-.5V224h-.5V221.7h-.5V217.9h-.5V220.6h-.5V221.2h-.5V226.5h-.5V221.3h-.5V221.8h-.5V218.8h-.5V221.2h-.5V219.6h-.5V223.7h-.5V219.5h-.5V220.7h-.5V219.9h-.5V216.7h-.5V221.9h-.5V225.6h-.5V218.7h-.5V218.7h-.5V221.2h-.5V219.9h-.5V226.5h-.5V222.9h-.5V219.4h-.5V225h-.5V217.6h-.5V217.9h-.5V218.8h-.5V220.6h-.5V219.2h-.5V223.4h-.5V218h-.5V226.5h-.5V217.2h-.5V219.4h-.5V218.3h-.5V219.9h-.5V220.9h-.5V221h-.5V217.7h-.5V221.9h-.5V223.6h-.5V222h-.5V217.3h-.5V216.1h-.5V219.4h-.5V221.8h-.5V222h-.5V218.3h-.5V224.3h-.5V219.8h-.5V223.2h-.5V226.3h-.5V215.6h-.5V226.5h-.5V222.9h-.5V219.8h-.5V219.7h-.5V218.2h-.5V224.1h-.5V221.1h-.5V226.5h-.5V221.7h-.5V218.1h-.5V219.7h-.5V219.4h-.5V222h-.5V220.2h-.5V220.4h-.5V218.6h-.5V219.6h-.5V226.5h-.5V217.1h-.5V221h-.5V220.2h-.5V224.7h-.5V221.5h-.5V219.2h-.5V221.3h-.5V218.8h-.5V226.5h-.5V219h-.5V216.3h-.5V222h-.5V220.1h-.5V224h-.5V218.7h-.5V217.9h-.5V217.9h-.5V215.8h-.5V219.8h-.5V224.8h-.5V220.4h-.5V225.7h-.5V226.2h-.5V220.3h-.5V220.4h-.5V218h-.5V221.1h-.5V222h-.5V226.1h-.5V221.6h-.5V219.7h-.5V220h-.5V222.5h-.5V226.5h-.5V220.3h-.5V220.5h-.5V219.4h-.5V223.1h-.5V217.1h-.5V219.3h-.5V217.5h-.5V219.1h-.5V222.7h-.5V217.8h-.5V222.4h-.5V219.9h-.5V225.9h-.5V217.8h-.5V217.4h-.5V219h-.5V219.2h-.5V226.5h-.5V217.6h-.5V221h-.5V221.6h-.5V223.9h-.5V217.8h-.5V218.4h-.5V223.4h-.5V217.2h-.5V218.6h-.5V215.4h-.5V221.8h-.5V220h-.5V221.1h-.5V218.9h-.5V218.1h-.5V221.5h-.5V219.1h-.5V217.6h-.5V222h-.5V218.4h-.5V218.8h-.5V222.7h-.5V220.5h-.5V221.7h-.5V224.3h-.5V220.1h-.5V221.5h-.5V220.1h-.5V219.5h-.5V226.5h-.5V225.8h-.5V217.7h-.5V222.1h-.5V226.5h-.5V219.4h-.5V216.8h-.5V220.8h-.5V219.2h-.5V219.4h-.5V218.6h-.5V218.5h-.5V220.8h-.5V224.4h-.5V220.3h-.5V217.5h-.5V220.9h-.5V294.8h-.5V295h-.5V296.1h-.5V302.6h-.5V299.7h-.5V297.1h-.5V293.7h-.5V299.3h-.5V301.5h-.5V299h-.5V293.7h-.5V297.1h-.5V302.6h-.5V295.8h-.5V298.1h-.5V296.7h-.5V300.3h-.5V301.6h-.5V294.6h-.5V297h-.5V297.1h-.5V296.5h-.5V297.1h-.5V294h-.5V295.9h-.5V298h-.5V294.9h-.5V296.9h-.5V296.4h-.5V222.2h-.5V224.9h-.5V294.7h-.5V293.9h-.5V295.2h-.5V292.4h-.5V298.3h-.5V293.6h-.5V295.4h-.5V293.8h-.5V299.5h-.5V296.2h-.5V295.4h-.5V294.7h-.5V296.7h-.5V300.3h-.5V297.8h-.5V293.8h-.5V293.4h-.5V297h-.5V296.8h-.5V296.1h-.5V294.8h-.5V301.3h-.5V295.3h-.5V296.9h-.5V297.9h-.5V295.1h-.5V295.6h-.5V295h-.5V293.9h-.5V296.5h-.5V293.6h-.5V298.3h-.5V296.6h-.5V295.5h-.5V294.2h-.5V295.3h-.5V298.5h-.5V294.9h-.5V302.6h-.5V294.7h-.5V301.2h-.5V298.2h-.5V297.2h-.5V294.6h-.5V293h-.5V297.7h-.5V302.6h-.5V295.5h-.5V297.4h-.5V298.3h-.5V292.8h-.5V292.7h-.5V299.8h-.5V298.7h-.5V294.9h-.5V296.3h-.5V220.8h-.5V225.5h-.5V295.4h-.5V293.2h-.5V302.4h-.5V293.9h-.5V294.3h-.5V295.8h-.5V296.9h-.5V295.7h-.5V294.9h-.5V294.4h-.5V292.1h-.5V298.1h-.5V295.2h-.5V296.6h-.5V293.8h-.5V296.6h-.5V300.8h-.5V293.5h-.5V302.5h-.5V294.3h-.5V295.4h-.5V298h-.5V298.8h-.5V302.6h-.5V295.1h-.5V294.6h-.5V295.8h-.5V294.1h-.5V296.8h-.5V294h-.5V293.7h-.5V298.5h-.5V296h-.5V297.1h-.5V294h-.5V297.7h-.5V297.7h-.5V294.7h-.5V296.7h-.5V292.4h-.5V298.4h-.5V299.9h-.5V295.9h-.5V299.3h-.5V297h-.5V294.1h-.5V294.2h-.5V297h-.5V298h-.5V301.3h-.5V300.4h-.5V300.8h-.5V298.8h-.5V300.4h-.5V296.7h-.5V297.5h-.5V295.6h-.5V225.4h-.5V225.4h-.5V296.3h-.5V295.3h-.5V295.7h-.5V294.3h-.5V295.8h-.5V299.3h-.5V296h-.5V297.6h-.5V296h-.5V296.2h-.5V297.5h-.5V296.2h-.5V294.4h-.5V298.4h-.5V294.2h-.5V298.9h-.5V296.5h-.5V296.2h-.5V293.4h-.5V302.6h-.5V295.9h-.5V295.2h-.5V293.9h-.5V293.5h-.5V297.2h-.5V298.4h-.5V299.7h-.5V299.6h-.5V297.2h-.5V297.7h-.5V293.8h-.5V296.6h-.5V294.7h-.5V297.4h-.5V294.2h-.5V298.4h-.5V302.6h-.5V293.8h-.5V295.1h-.5V299.4h-.5V295.4h-.5V295.3h-.5V297.2h-.5V295.5h-.5V297.3h-.5V297.2h-.5V295.7h-.5V294.6h-.5V295h-.5V297h-.5V302.6h-.5V295.6h-.5V295.7h-.5V298.8h-.5V295.9h-.5V222.4h-.5V220.1h-.5V297h-.5V296.3h-.5V295.3h-.5V295.8h-.5V297.6h-.5V298.8h-.5V296.2h-.5V297h-.5V295.6h-.5V295.6h-.5V297.2h-.5V300.9h-.5V295.9h-.5V294.7h-.5V301.5h-.5V295.4h-.5V294.6h-.5V300.6h-.5V295.8h-.5V295.4h-.5V297.2h-.5V296.2h-.5V293.9h-.5V296.3h-.5V298.3h-.5V302.6h-.5V298.7h-.5V294h-.5V302.6h-.5V297.2h-.5V297.4h-.5V296.7h-.5V295.1h-.5V295.7h-.5V294.5h-.5V297.3h-.5V297h-.5V296.7h-.5V298.3h-.5V298.4h-.5V295.6h-.5V301.2h-.5V296.4h-.5V300.2h-.5V298.3h-.5V295.9h-.5V292.7h-.5V294.9h-.5V296.6h-.5V294.8h-.5V295.1h-.5V295.2h-.5V298.6h-.5V293.6h-.5V296.4h-.5V296.2h-.5V224.8h-.5V226.1h-.5V223.3h-.5V228h-.5V219.6h-.5V223.4h-.5V295.3h-.5V298.4h-.5V295.2h-.5V295.7h-.5V295.7h-.5V299.7h-.5V295.1h-.5V299.6h-.5V296.1h-.5V294.4h-.5V302.6h-.5V298.3h-.5V295h-.5V293.2h-.5V295.6h-.5V299.1h-.5V293.6h-.5V294.2h-.5V297.4h-.5V297.6h-.5V300.5h-.5V296.5h-.5V297.3h-.5V296.1h-.5V294.3h-.5V293.2h-.5V297h-.5V302.6h-.5V297.7h-.5V293.9h-.5V299h-.5V301.9h-.5V295.5h-.5V301.2h-.5V296.8h-.5V293.7h-.5V296.7h-.5V295.7h-.5V295.4h-.5V295.9h-.5V295.4h-.5V296.4h-.5V297.9h-.5V296.2h-.5V294.4h-.5V297.1h-.5V295.7h-.5V300.7h-.5V294.3h-.5V296.6h-.5V297.7h-.5V294.9h-.5V221.5h-.5V224.6h-.5V294.9h-.5V295.2h-.5V298.2h-.5V294.3h-.5V296.2h-.5V299.5h-.5V292.6h-.5V302.6h-.5V296.1h-.5V296.5h-.5V295.8h-.5V300.4h-.5V296h-.5V295.5h-.5V295.1h-.5V294.2h-.5V294.9h-.5V295.5h-.5V295.3h-.5V297.8h-.5V295.8h-.5V302.6h-.5V295.7h-.5V302.6h-.5V297.5h-.5V299.9h-.5V299.5h-.5V300.9h-.5V295.8h-.5V295.2h-.5V302.6h-.5V296.3h-.5V296h-.5V296h-.5V295.3h-.5V295.1h-.5V293.8h-.5V298.2h-.5V298.2h-.5V295.7h-.5V296.1h-.5V296.4h-.5V300.1h-.5V297h-.5V295.5h-.5V302.6h-.5V294.4h-.5V302.6h-.5V294.3h-.5V293.7h-.5V294.9h-.5V293.2h-.5V295.7h-.5V296.3h-.5V293.8h-.5V295.7h-.5V224.5h-.5V228.8h-.5V228.8h-.5V296.1h-.5V292.9h-.5V294.6h-.5V297.3h-.5V295h-.5V296.2h-.5V296.2h-.5V302.6h-.5V297.3h-.5V293.1h-.5V297.3h-.5V294.8h-.5V296.9h-.5V293.8h-.5V297.1h-.5V293.4h-.5V294.9h-.5V295h-.5V295.8h-.5V293h-.5V302.6h-.5V294.2h-.5V294.3h-.5V299.2h-.5V226.9h-.5V222.2h-.5V225.1h-.5V221h-.5V223.4h-.5V298.3h-.5V297.3h-.5V294.5h-.5V298.9h-.5V295h-.5V295.7h-.5V292.6h-.5V296.1h-.5V296.7h-.5V296.5h-.5V298.9h-.5V294.5h-.5V295.7h-.5V296.8h-.5V301.9h-.5V295.5h-.5V297.9h-.5V302.6h-.5V294.2h-.5V293.9h-.5V296h-.5V298.2h-.5V298.9h-.5V294.6h-.5V301.8h-.5V295.6h-.5V295.9h-.5V224.9h-.5V228.3h-.5V302.6h-.5V299.3h-.5V291.8h-.5V296.6h-.5V295.7h-.5V294.2h-.5V296.6h-.5V295h-.5V297.3h-.5V296h-.5V297.6h-.5V293.8h-.5V294.7h-.5Z" fill="#0072bd" stroke="#0072bd" stroke-width="0.5"/>
<g class="s" font-size="8.3"><text x="74.1" y="113" text-anchor="middle">20</text><text x="99.8" y="113" text-anchor="middle">25</text><text x="125.6" y="113" text-anchor="middle">30</text><text x="151.4" y="113" text-anchor="middle">35</text><text x="177.2" y="113" text-anchor="middle">40</text><text x="202.9" y="113" text-anchor="middle">45</text><text x="228.7" y="113" text-anchor="middle">50</text><text x="254.5" y="113" text-anchor="middle">55</text><text x="45.9" y="87.4" text-anchor="end">−10</text><text x="45.9" y="65.6" text-anchor="end">0</text><text x="45.9" y="43.8" text-anchor="end">10</text><text x="45.9" y="22.0" text-anchor="end">20</text></g><g class="n" font-size="8.3"><text x="354.2" y="118.8" text-anchor="middle">20</text><text x="381.3" y="118.8" text-anchor="middle">25</text><text x="408.3" y="118.8" text-anchor="middle">30</text><text x="435.4" y="118.8" text-anchor="middle">35</text><text x="462.4" y="118.8" text-anchor="middle">40</text><text x="489.4" y="118.8" text-anchor="middle">45</text><text x="516.5" y="118.8" text-anchor="middle">50</text><text x="543.5" y="118.8" text-anchor="middle">55</text><text x="324.9" y="89.8" text-anchor="end">0</text><text x="324.9" y="61.0" text-anchor="end">10</text><text x="324.9" y="32.3" text-anchor="end">20</text></g><g class="s" font-size="8.3"><text x="143.6" y="314.9" text-anchor="middle">20</text><text x="192.1" y="314.9" text-anchor="middle">25</text><text x="240.7" y="314.9" text-anchor="middle">30</text><text x="289.2" y="314.9" text-anchor="middle">35</text><text x="337.8" y="314.9" text-anchor="middle">40</text><text x="386.4" y="314.9" text-anchor="middle">45</text><text x="434.9" y="314.9" text-anchor="middle">50</text><text x="483.5" y="314.9" text-anchor="middle">55</text><text x="92.6" y="298.0" text-anchor="end">−2000</text><text x="92.6" y="274.5" text-anchor="end">−1000</text><text x="92.6" y="251.0" text-anchor="end">0</text><text x="92.6" y="227.5" text-anchor="end">1000</text><text x="92.6" y="204.0" text-anchor="end">2000</text><text x="92.6" y="180.5" text-anchor="end">3000</text></g><g class="s" font-size="10.2"><text transform="translate(10.8,55.1) rotate(-90)" text-anchor="middle" textLength="93.3">Filtered discriminator</text><text transform="translate(24.5,55.1) rotate(-90)" text-anchor="middle" textLength="61.8">output of DLL</text><text x="151" y="124.9" text-anchor="middle"><tspan font-style="italic">t</tspan> (ms)</text><text x="288.6" y="327.8" text-anchor="middle"><tspan font-style="italic">t</tspan> (ms)</text><text transform="translate(57.9,240.6) rotate(-90)" font-style="italic" font-size="9.8">I<tspan font-size="7.4" dy="3.3" dx="-0.3">P</tspan></text></g><g class="s" font-size="9.5"><text transform="translate(298.5,55.9) rotate(-90)" text-anchor="middle" textLength="86.3">Filtered discriminator</text><text transform="translate(311,56.2) rotate(-90)" text-anchor="middle" textLength="54.4">output of PLL</text><text x="434.8" y="128.8" text-anchor="middle"><tspan font-style="italic">t</tspan> (ms)</text></g><g class="s" font-size="10.4"><text x="141.6" y="148.6" text-anchor="middle">(<tspan font-weight="bold">a</tspan>)</text><text x="420.2" y="148.5" text-anchor="middle" textLength="13.6">(<tspan font-weight="bold">b</tspan>)</text><text x="280.5" y="348.1" text-anchor="middle">(<tspan font-weight="bold">c</tspan>)</text></g>
</svg>
</body></html>
